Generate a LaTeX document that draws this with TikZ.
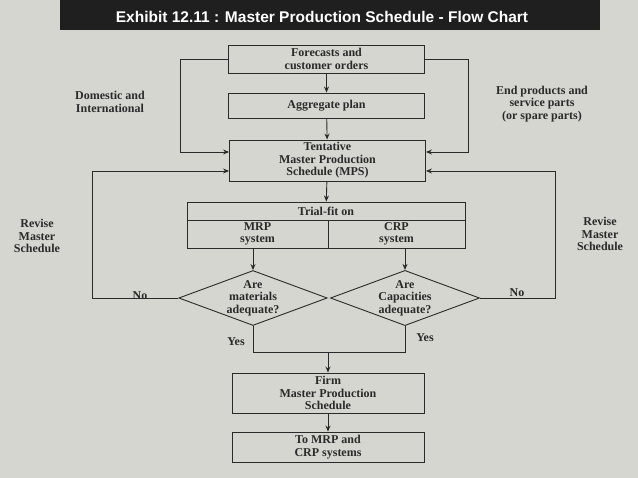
\documentclass[tikz,border=0pt]{standalone}
\usepackage{fontspec}
\setmainfont{Liberation Serif}
\newfontfamily\hdr{Liberation Sans}
\usetikzlibrary{shapes.geometric,arrows.meta}
\definecolor{paper}{HTML}{D6D6D0}
\definecolor{ink}{HTML}{2A2A2A}
\newcommand{\bodyf}{\fontsize{12}{12.5}\selectfont\bfseries}
\begin{document}
\begin{tikzpicture}[x=1pt,y=-1pt,
  box/.style={draw=ink,line width=0.9pt,minimum width=196pt,align=center,font=\bodyf,text=ink,inner sep=1pt},
  dia/.style={draw=ink,line width=0.9pt,diamond,aspect=2.7,minimum width=145pt,minimum height=54pt,inner sep=0pt,align=center,font=\bodyf,text=ink},
  ln/.style={draw=ink,line width=0.9pt},
  ar/.style={ln,-{Stealth[length=6pt,width=5pt]}},
  lab/.style={font=\bodyf,text=ink,align=center}]
\useasboundingbox (0,0) rectangle (638,478);
\fill[paper] (0,0) rectangle (638,478);
\fill[black!88] (60,0) rectangle (600,30);
\node[text=white,font=\hdr\bfseries\fontsize{15.5}{17}\selectfont] at (322,17) {Exhibit 12.11 : Master Production Schedule - Flow Chart};

\node[box,minimum height=28pt] (fc) at (326.5,59) {Forecasts and\\customer orders};
\node[box,minimum height=25pt] (ag) at (326.5,105.5) {Aggregate plan};
\node[box,minimum height=41pt] (mps) at (327.5,160.5) {Tentative\\Master Production\\Schedule (MPS)};
\node[draw=ink,line width=0.9pt,minimum width=278pt,minimum height=18pt,inner sep=0pt,font=\bodyf,text=ink] (tf) at (326,211) {Trial-fit on};
\node[draw=ink,line width=0.9pt,minimum width=141pt,minimum height=28pt,inner sep=0pt,align=center,font=\bodyf,text=ink] (mrp) at (257.5,234) {MRP\\system};
\node[draw=ink,line width=0.9pt,minimum width=137pt,minimum height=28pt,inner sep=0pt,align=center,font=\bodyf,text=ink] (crp) at (396.5,234) {CRP\\system};
\node[dia] (d1) at (253,298) {Are\\materials\\adequate?};
\node[dia] (d2) at (405,298) {Are\\Capacities\\adequate?};
\node[box,minimum width=192pt,minimum height=40pt] (firm) at (328,393) {Firm\\Master Production\\Schedule};
\node[box,minimum width=192pt,minimum height=30pt] (to) at (328,447) {To MRP and\\CRP systems};

\draw[ar] (fc) -- (ag);
\draw[ar] (ag) -- (mps);
\draw[ar] (mps) -- (tf);
\draw[ar] (mrp.south -| d1) -- (d1.north);
\draw[ar] (crp.south -| d2) -- (d2.north);
\draw[ar] (firm) -- (to);

\coordinate (l1) at (180,59);
\coordinate (l2) at (180,152);
\draw[ar] (fc.west) -- (l1) -- (l2) -- (l2 -| mps.west);
\coordinate (r1) at (468,59);
\coordinate (r2) at (468,152);
\draw[ar] (fc.east) -- (r1) -- (r2) -- (r2 -| mps.east);
\coordinate (lv1) at (92,298);
\coordinate (lv2) at (92,171);
\draw[ar] (d1.west) -- (lv1) -- (lv2) -- (lv2 -| mps.west);
\coordinate (rv1) at (555,298);
\coordinate (rv2) at (555,171);
\draw[ar] (d2.east) -- (rv1) -- (rv2) -- (rv2 -| mps.east);

\coordinate (y1) at (253,352);
\coordinate (y2) at (405,352);
\coordinate (ym) at (328,352);
\draw[ln] (d1.south) -- (y1) -- (ym);
\draw[ln] (d2.south) -- (y2) -- (ym);
\draw[ar] (ym) -- (firm.north);

\node[lab] at (110,102) {Domestic and\\International};
\node[lab] at (542,104) {End products and\\service parts\\(or spare parts)};
\node[lab] at (37,236) {Revise\\Master\\Schedule};
\node[lab] at (600,234) {Revise\\Master\\Schedule};
\node[lab] at (140,296) {No};
\node[lab] at (517,293) {No};
\node[lab] at (236,342) {Yes};
\node[lab] at (425,338) {Yes};
\end{tikzpicture}
\end{document}
